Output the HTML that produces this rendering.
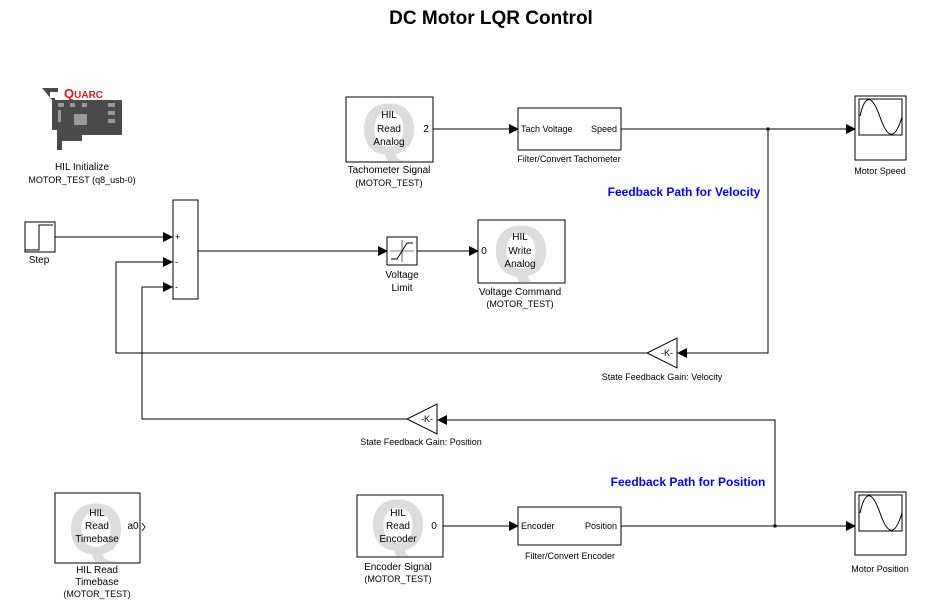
<!DOCTYPE html>
<html><head><meta charset="utf-8"><style>
html,body{margin:0;padding:0;background:#fff;width:927px;height:612px;overflow:hidden}
svg text{font-family:"Liberation Sans",Arial,sans-serif;font-size:10px;fill:#000}
.q{font-size:72px;font-weight:bold;fill:#dcdcdc}
.b{fill:#0000ff;font-weight:bold;font-size:12px}
</style></head><body>
<svg width="927" height="612" viewBox="0 0 927 612" xmlns="http://www.w3.org/2000/svg">
<defs><marker id="a" markerWidth="10" markerHeight="10" refX="9" refY="5" orient="auto" markerUnits="userSpaceOnUse"><path d="M0,0 L10,5 L0,10 z" fill="#000"/></marker></defs>
<text x="491" y="24" text-anchor="middle" style="font-size:19px;font-weight:bold">DC Motor LQR Control</text>

<!-- Quarc logo -->
<g>
<path d="M42,88 L58,88 L58,92 L50,92 L50,98 L55,98 L55,100 L122,100 L122,135 L82,135 L82,141 L62,141 L62,150 L57,150 L57,130 L52,130 L52,100 Z" fill="#4a4a4a"/>
<text x="64" y="98" style="font-size:13px;font-weight:bold;fill:#d42020">Q<tspan style="font-size:10px">UARC</tspan></text>
<rect x="74" y="114" width="13" height="11" fill="#999"/><rect x="58" y="103" width="6" height="4" fill="#999"/><rect x="70" y="103" width="5" height="4" fill="#999"/><rect x="82" y="103" width="5" height="4" fill="#999"/><rect x="108" y="103" width="7" height="4" fill="#999"/><rect x="108" y="111" width="7" height="4" fill="#999"/><rect x="108" y="119" width="7" height="4" fill="#999"/><rect x="58" y="110" width="3" height="12" fill="#999"/>
</g>
<text x="82" y="170" text-anchor="middle">HIL Initialize</text>
<text x="82" y="183" text-anchor="middle" style="font-size:9px">MOTOR_TEST (q8_usb-0)</text>

<!-- Tach read -->
<rect x="346" y="97" width="87" height="65" fill="#fff" stroke="#000"/>
<svg x="347" y="98" width="85" height="63"><text x="42" y="56" text-anchor="middle" class="q">Q</text></svg>
<text x="389" y="118" text-anchor="middle">HIL</text><text x="389" y="132" text-anchor="middle">Read</text><text x="389" y="145" text-anchor="middle">Analog</text>
<text x="426" y="132" text-anchor="middle">2</text>
<text x="389" y="173" text-anchor="middle">Tachometer Signal</text><text x="389" y="186" text-anchor="middle" style="font-size:9px">(MOTOR_TEST)</text>
<line x1="433" y1="129" x2="518" y2="129" stroke="#000" marker-end="url(#a)"/>
<rect x="518" y="108" width="103" height="42" fill="#fff" stroke="#000"/>
<text x="521" y="132" style="font-size:9px">Tach Voltage</text><text x="617" y="132" text-anchor="end" style="font-size:9px">Speed</text>
<text x="569" y="162" text-anchor="middle" style="font-size:9px">Filter/Convert Tachometer</text>
<line x1="621" y1="129" x2="855" y2="129" stroke="#000" marker-end="url(#a)"/>
<rect x="766.5" y="127.5" width="3" height="3" fill="#000"/>
<rect x="855" y="96" width="51" height="64" fill="#fff" stroke="#000"/>
<rect x="859" y="99" width="43" height="36" fill="#fff" stroke="#000"/>
<path d="M860,116 C865,94 872,94 880,117 S895,140 902,117" fill="none" stroke="#000"/>
<text x="880" y="174" text-anchor="middle" style="font-size:9px">Motor Speed</text>
<text x="684" y="196" text-anchor="middle" class="b">Feedback Path for Velocity</text>

<!-- velocity feedback -->
<polyline points="768,129 768,353 678,353" fill="none" stroke="#000" marker-end="url(#a)"/>
<polygon points="677,338 677,368 647,353" fill="#fff" stroke="#000"/>
<text x="667" y="356" text-anchor="middle" style="font-size:9px">-K-</text>
<text x="662" y="380" text-anchor="middle" style="font-size:9px">State Feedback Gain: Velocity</text>
<polyline points="647,353 116,353 116,262 172,262" fill="none" stroke="#000" marker-end="url(#a)"/>

<!-- step and sum -->
<rect x="25" y="222" width="30" height="30" fill="#fff" stroke="#000"/>
<polyline points="25,250 39,250 39,225 53,225" fill="none" stroke="#000"/>
<text x="39" y="263" text-anchor="middle">Step</text>
<line x1="55" y1="237" x2="172" y2="237" stroke="#000" marker-end="url(#a)"/>
<rect x="173" y="200" width="25" height="99" fill="#fff" stroke="#000"/>
<text x="175" y="240" style="font-size:9px">+</text><text x="175" y="265" style="font-size:9px">-</text><text x="175" y="290" style="font-size:9px">-</text>
<line x1="198" y1="251" x2="387" y2="251" stroke="#000" marker-end="url(#a)"/>
<rect x="387" y="237" width="30" height="28" fill="#fff" stroke="#000"/>
<line x1="390" y1="251" x2="414" y2="251" stroke="#000" stroke-width="0.6"/><line x1="402" y1="240" x2="402" y2="262" stroke="#000" stroke-width="0.6"/>
<polyline points="391,259 397,259 407,243 413,243" fill="none" stroke="#000"/>
<text x="402" y="278" text-anchor="middle">Voltage</text><text x="402" y="291" text-anchor="middle">Limit</text>
<line x1="417" y1="251" x2="478" y2="251" stroke="#000" marker-end="url(#a)"/>
<rect x="478" y="220" width="87" height="63" fill="#fff" stroke="#000"/>
<svg x="479" y="221" width="85" height="61"><text x="42" y="55" text-anchor="middle" class="q">Q</text></svg>
<text x="520" y="240" text-anchor="middle">HIL</text><text x="520" y="254" text-anchor="middle">Write</text><text x="520" y="267" text-anchor="middle">Analog</text>
<text x="484" y="254" text-anchor="middle">0</text>
<text x="520" y="295" text-anchor="middle">Voltage Command</text><text x="520" y="307" text-anchor="middle" style="font-size:9px">(MOTOR_TEST)</text>

<!-- position feedback -->
<polyline points="775,525 775,420 438,420" fill="none" stroke="#000" marker-end="url(#a)"/>
<polygon points="437,404 437,434 407,419" fill="#fff" stroke="#000"/>
<text x="427" y="422" text-anchor="middle" style="font-size:9px">-K-</text>
<text x="421" y="445" text-anchor="middle" style="font-size:9px">State Feedback Gain: Position</text>
<polyline points="407,419 142,419 142,287 172,287" fill="none" stroke="#000" marker-end="url(#a)"/>
<text x="688" y="486" text-anchor="middle" class="b">Feedback Path for Position</text>

<!-- timebase -->
<rect x="55" y="493" width="85" height="70" fill="#fff" stroke="#000"/>
<svg x="56" y="494" width="83" height="68"><text x="40" y="60" text-anchor="middle" class="q">Q</text></svg>
<text x="97" y="516" text-anchor="middle">HIL</text><text x="97" y="529" text-anchor="middle">Read</text><text x="97" y="542" text-anchor="middle">Timebase</text>
<text x="133" y="529" text-anchor="middle">a0</text>
<polyline points="142,523 145,527 142,531" fill="none" stroke="#000" stroke-width="0.8"/>
<text x="97" y="573" text-anchor="middle">HIL Read</text><text x="97" y="585" text-anchor="middle">Timebase</text><text x="97" y="597" text-anchor="middle" style="font-size:9px">(MOTOR_TEST)</text>

<!-- encoder -->
<rect x="357" y="495" width="86" height="62" fill="#fff" stroke="#000"/>
<svg x="358" y="496" width="84" height="60"><text x="40" y="54" text-anchor="middle" class="q">Q</text></svg>
<text x="398" y="516" text-anchor="middle">HIL</text><text x="398" y="529" text-anchor="middle">Read</text><text x="398" y="542" text-anchor="middle">Encoder</text>
<text x="434" y="529" text-anchor="middle">0</text>
<text x="398" y="570" text-anchor="middle">Encoder Signal</text><text x="398" y="582" text-anchor="middle" style="font-size:9px">(MOTOR_TEST)</text>
<line x1="443" y1="526" x2="518" y2="526" stroke="#000" marker-end="url(#a)"/>
<rect x="518" y="507" width="103" height="38" fill="#fff" stroke="#000"/>
<text x="521" y="529" style="font-size:9px">Encoder</text><text x="617" y="529" text-anchor="end" style="font-size:9px">Position</text>
<text x="570" y="559" text-anchor="middle" style="font-size:9px">Filter/Convert Encoder</text>
<line x1="621" y1="526" x2="855" y2="526" stroke="#000" marker-end="url(#a)"/>
<rect x="773.5" y="524.5" width="3" height="3" fill="#000"/>
<rect x="855" y="492" width="51" height="63" fill="#fff" stroke="#000"/>
<rect x="859" y="495" width="43" height="36" fill="#fff" stroke="#000"/>
<path d="M860,513 C865,490 872,490 880,513 S895,536 902,513" fill="none" stroke="#000"/>
<text x="880" y="572" text-anchor="middle" style="font-size:9px">Motor Position</text>
</svg>
</body></html>
